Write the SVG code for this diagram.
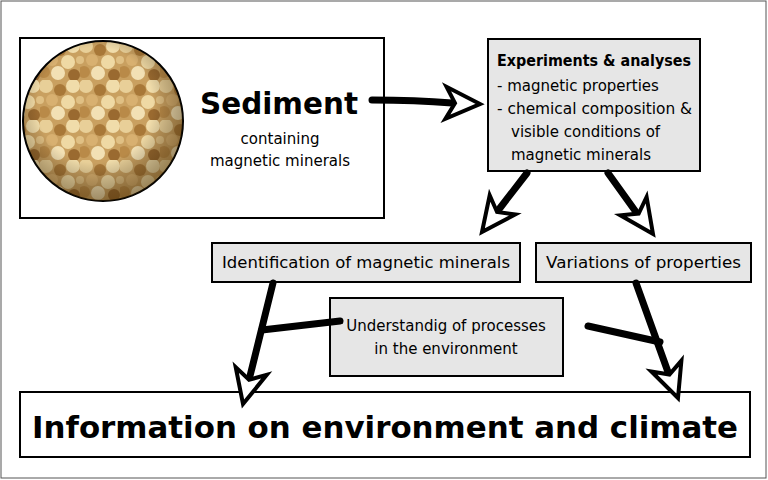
<svg xmlns="http://www.w3.org/2000/svg" width="768" height="480" viewBox="0 0 768 480">
<defs>
<style>
.box{fill:#fff;stroke:#000;stroke-width:2}
.gbox{fill:#e6e6e6;stroke:#000;stroke-width:2}
text{font-family:"DejaVu Sans",sans-serif;fill:#000}
.sm{font-size:15px}
.ln{fill:none;stroke:#000;stroke-width:7;stroke-linecap:round}
.hd{fill:#fff;stroke:#000;stroke-width:4;stroke-linejoin:miter}
</style>
<pattern id="sand" width="40" height="40" patternUnits="userSpaceOnUse">
<rect width="40" height="40" fill="#c9a060"/>
<circle cx="6" cy="6" r="7" fill="#e8cf98"/>
<circle cx="20" cy="10" r="6" fill="#a87838"/>
<circle cx="33" cy="6" r="7" fill="#f0dcaa"/>
<circle cx="12" cy="20" r="6" fill="#d8b070"/>
<circle cx="28" cy="22" r="7" fill="#efd9a4"/>
<circle cx="4" cy="32" r="6" fill="#b98a48"/>
<circle cx="18" cy="33" r="7" fill="#f2e0b4"/>
<circle cx="34" cy="35" r="6" fill="#9a6a30"/>
<circle cx="40" cy="20" r="4" fill="#e0c084"/>
<circle cx="0" cy="20" r="4" fill="#e0c084"/>
</pattern>
<radialGradient id="shade" cx="0.45" cy="0.4" r="0.6">
<stop offset="0.6" stop-color="#000" stop-opacity="0"/>
<stop offset="1" stop-color="#3a2400" stop-opacity="0.45"/>
</radialGradient>
<polygon id="head" class="hd" points="0,0 -34,-16 -25,0 -34,16"/>
</defs>
<rect x="1" y="1" width="765" height="477" fill="#fff" stroke="#555" stroke-width="1"/>
<g id="sediment">
<rect class="box" x="20" y="38" width="364" height="180"/>
<circle cx="103" cy="121" r="80" fill="url(#sand)" stroke="#000" stroke-width="2"/>
<circle cx="103" cy="121" r="80" fill="url(#shade)"/>
<text x="200" y="114" font-size="31" font-weight="bold" textLength="158" lengthAdjust="spacingAndGlyphs">Sediment</text>
<text class="sm" x="280" y="144" text-anchor="middle">containing</text>
<text class="sm" x="280" y="166" text-anchor="middle">magnetic minerals</text>
</g>
<g id="experiments">
<rect class="gbox" x="488" y="39" width="212" height="132"/>
<text x="497" y="66" font-size="15" font-weight="bold" textLength="194" lengthAdjust="spacingAndGlyphs">Experiments &amp; analyses</text>
<text class="sm" x="497" y="91">- magnetic properties</text>
<text class="sm" x="497" y="114" textLength="195" lengthAdjust="spacingAndGlyphs">- chemical composition &amp;</text>
<text class="sm" x="511" y="137">visible conditions of</text>
<text class="sm" x="511" y="160">magnetic minerals</text>
</g>
<g id="identification">
<rect class="gbox" x="212" y="243" width="308" height="39"/>
<text class="sm" x="222" y="268" textLength="288" lengthAdjust="spacingAndGlyphs">Identification of magnetic minerals</text>
</g>
<g id="variations">
<rect class="gbox" x="536" y="243" width="215" height="39"/>
<text class="sm" x="546" y="268" textLength="195" lengthAdjust="spacingAndGlyphs">Variations of properties</text>
</g>
<g id="understanding">
<rect class="gbox" x="330" y="298" width="233" height="78"/>
<text class="sm" x="446" y="331" text-anchor="middle">Understandig of processes</text>
<text class="sm" x="446" y="354" text-anchor="middle">in the environment</text>
</g>
<g id="information">
<rect class="box" x="20" y="392" width="730" height="65"/>
<text x="32" y="438" font-size="31" font-weight="bold" textLength="706" lengthAdjust="spacingAndGlyphs">Information on environment and climate</text>
</g>
<g id="connectors">
<path class="ln" d="M372,100 C410,100 440,102 452,103"/>
<use href="#head" transform="translate(480,104) rotate(2)"/>
<path class="ln" d="M527,173 L500,208"/>
<use href="#head" transform="translate(482,232) rotate(127)"/>
<path class="ln" d="M608,173 L636,212"/>
<use href="#head" transform="translate(653,234) rotate(55)"/>
<path class="ln" d="M273,283 L250,376"/>
<path class="ln" d="M340,321 L262,330"/>
<use href="#head" transform="translate(243,404) rotate(104)"/>
<path class="ln" d="M636,283 L668,372"/>
<path class="ln" d="M588,326 L660,342"/>
<use href="#head" transform="translate(678,398) rotate(70)"/>
</g>
</svg>
